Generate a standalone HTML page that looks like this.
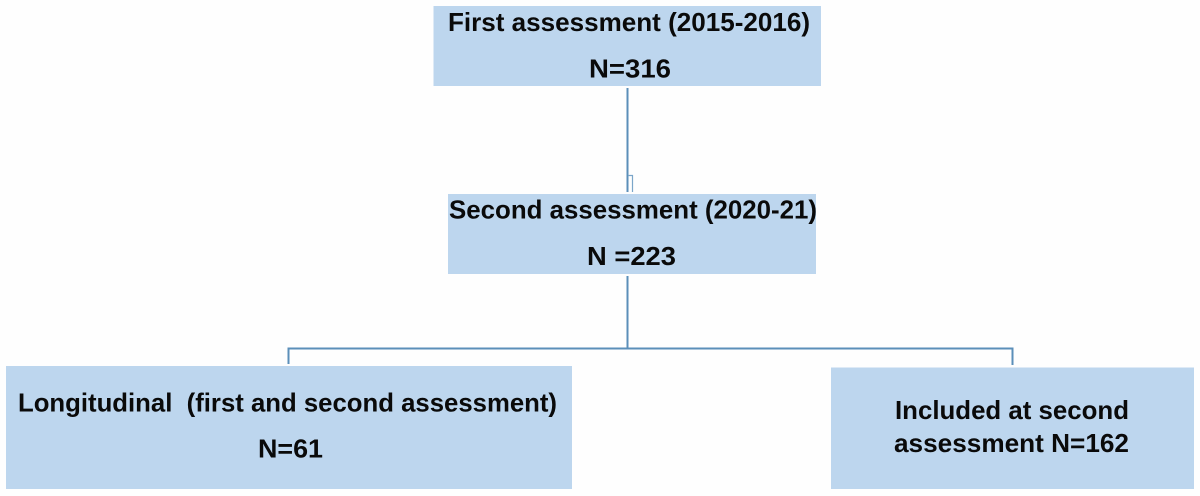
<!DOCTYPE html>
<html>
<head>
<meta charset="utf-8">
<style>
html,body{margin:0;padding:0;background:#fff;width:1200px;height:496px;overflow:hidden}
svg{display:block}
text{font-family:"Liberation Sans",sans-serif;font-weight:bold;font-size:26px;fill:#0a0a0a;filter:blur(.35px)}
</style>
</head>
<body>
<svg width="1200" height="496" viewBox="0 0 1200 496" xmlns="http://www.w3.org/2000/svg">
<rect width="1200" height="496" fill="#fefefe"/>
<g fill="#bdd6ee">
<rect x="433.5" y="6" width="387.5" height="80"/>
<rect x="448" y="194" width="368" height="80"/>
<rect x="6" y="366" width="566" height="123"/>
<rect x="831" y="367.5" width="363" height="121.5"/>
</g>
<g fill="none" stroke="#5b8fb9" stroke-width="2">
<path d="M627.5 88V192"/>
<path d="M627.5 276V348.5"/>
<path d="M288.5 364V348.5H1012.5V365"/>
</g>
<path d="M628 175.5H632.5V192" fill="none" stroke="#7ba6c9" stroke-width="1.2"/>
<text x="448" y="31" textLength="362" lengthAdjust="spacingAndGlyphs">First assessment (2015-2016)</text>
<text x="589" y="77.5" textLength="82" lengthAdjust="spacingAndGlyphs">N=316</text>
<text x="449" y="218.5" textLength="368" lengthAdjust="spacingAndGlyphs">Second assessment (2020-21)</text>
<text x="587" y="265" textLength="89" lengthAdjust="spacingAndGlyphs">N =223</text>
<text x="18" y="411.5" textLength="539" lengthAdjust="spacingAndGlyphs">Longitudinal&#160; (first and second assessment)</text>
<text x="258" y="457.5" textLength="65" lengthAdjust="spacingAndGlyphs">N=61</text>
<text x="895" y="419" textLength="234" lengthAdjust="spacingAndGlyphs">Included at second</text>
<text x="894" y="452" textLength="235" lengthAdjust="spacingAndGlyphs">assessment N=162</text>
</svg>
</body>
</html>
